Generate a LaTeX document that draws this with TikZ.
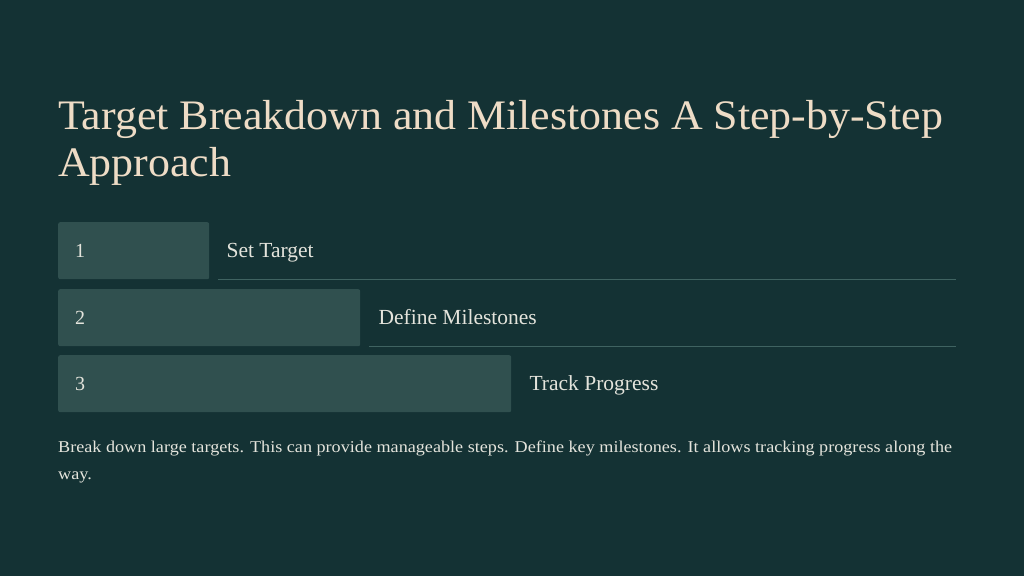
\documentclass[tikz,border=0pt]{standalone}
\usepackage{fontspec}
\setmainfont{Liberation Serif}
\newfontfamily\titlefont[FakeStretch=1.045]{Liberation Serif}
\newfontfamily\notefont[FakeStretch=1.1]{Liberation Serif}
\usetikzlibrary{positioning}
\definecolor{bgteal}{HTML}{143234}
\definecolor{barfill}{HTML}{30504F}
\definecolor{ruleline}{HTML}{3F6361}
\definecolor{titlecream}{HTML}{EEDCC6}
\definecolor{labeltext}{HTML}{E4E4DC}
\tikzset{
  bar/.style={fill=barfill, rounded corners=2pt, inner sep=0pt, anchor=north west, minimum height=57pt},
  barnum/.style={text=labeltext, font=\fontsize{20}{22}\selectfont, inner sep=0pt, text height=13.2pt, text depth=0pt},
  barlabel/.style={text=labeltext, font=\fontsize{21.5}{24}\selectfont, inner sep=0pt, text height=14.2pt, text depth=0pt},
  rule/.style={draw=ruleline, line width=1.2pt}
}
\begin{document}
\begin{tikzpicture}[x=1pt,y=-1pt]
  \fill[bgteal] (0,0) rectangle (1024,576);
  \useasboundingbox (0,0) rectangle (1024,576);
  % title
  \node[anchor=north west, inner sep=0pt, align=left, text=titlecream,
        font=\titlefont\fontsize{42}{47}\selectfont] (title) at (58,100)
        {Target Breakdown and Milestones A Step-by-Step\\Approach};
  % bars
  \node[bar, minimum width=151pt] (bar1) at (58,222) {};
  \node[bar, minimum width=302pt] (bar2) at (58,289) {};
  \node[bar, minimum width=453pt] (bar3) at (58,355) {};
  \node[barnum, right=17pt of bar1.west] (num1) {1};
  \node[barnum, right=17pt of bar2.west] (num2) {2};
  \node[barnum, right=17pt of bar3.west] (num3) {3};
  \node[barlabel, right=17pt of bar1.east] (lab1) {Set Target};
  \node[barlabel, right=18pt of bar2.east] (lab2) {Define Milestones};
  \node[barlabel, right=18pt of bar3.east] (lab3) {Track Progress};
  % rules under the labels
  \coordinate (rule1a) at ([xshift=9pt]bar1.south east);
  \coordinate (rule1b) at (956,279);
  \coordinate (rule2a) at ([xshift=9pt]bar2.south east);
  \coordinate (rule2b) at (956,346);
  \draw[rule] (rule1a) -- (rule1b |- rule1a);
  \draw[rule] (rule2a) -- (rule2b |- rule2a);
  % note
  \node[anchor=north west, inner sep=0pt, align=left, text=labeltext,
        font=\notefont\fontsize{16.5}{27}\selectfont] (note) at (58,441)
        {Break down large targets. This can provide manageable steps. Define key milestones. It allows tracking progress along the\\way.};
\end{tikzpicture}
\end{document}
